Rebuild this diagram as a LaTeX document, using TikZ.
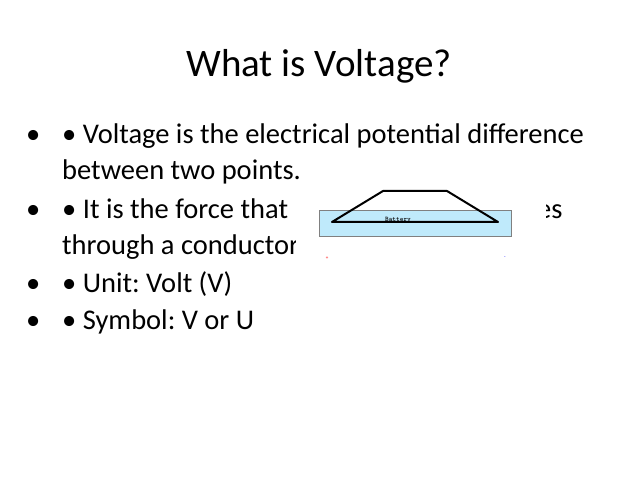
\documentclass[tikz,border=0pt]{standalone}
\usepackage{fontspec}
\setmainfont{Carlito}
\frenchspacing
\begin{document}
\begin{tikzpicture}[x=1pt,y=-1pt,
  body/.style={anchor=base west,inner sep=0pt,font=\fontsize{28.5}{32}\selectfont},
  bul/.style={anchor=base west,inner sep=0pt,font=\fontsize{28.5}{32}\selectfont}]
\useasboundingbox[fill=white] (0,0) rectangle (638,478);
\node[anchor=base,inner sep=0pt,font=\fontsize{39}{44}\selectfont] (title) at (319,77) {What is Voltage?};
\foreach \y/\n in {144/a,219/b,293/c,330/d} \node[bul] (b\n) at (26,\y) {•};
\node[body] (t1) at (62,144) {• Voltage is the electrical potential difference};
\node[body] (t1b) at (62,180) {between two points.};
\node[body] (t2) at (62,219) {• It is the force that pushes electric charges};
\node[body] (t2b) at (62,255) {through a conductor.};
\node[body] (t3) at (62,293) {• Unit: Volt (V)};
\node[body] (t4) at (62,330) {• Symbol: V or U};
\fill[white] (296,183) rectangle (546,268);
\fill[white] (296,183) rectangle (600,203);
\draw[fill=cyan!25!white,draw=gray,thick] (319,210) rectangle (511,236);
\node[inner sep=0pt,font=\ttfamily\bfseries\fontsize{7}{8}\selectfont] (bat) at (398,220) {Battery};
\draw[line width=2pt,line join=round] (332,222) -- (383,191) -- (447,191) -- (498,222) -- cycle;
\node[text=red,inner sep=0pt,font=\fontsize{5}{6}\selectfont] (plus) at (327,258) {+};
\node[text=blue,inner sep=0pt,font=\fontsize{5}{6}\selectfont] (minus) at (505,258) {-};
\end{tikzpicture}
\end{document}
